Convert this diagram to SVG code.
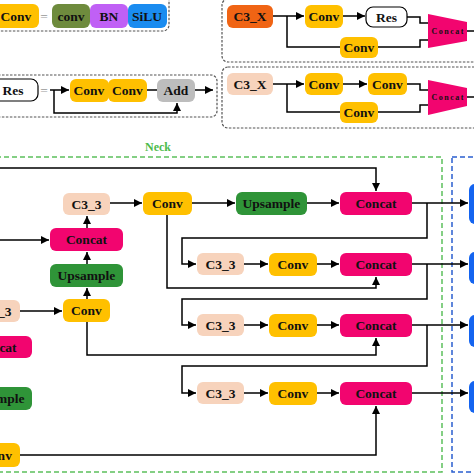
<svg xmlns="http://www.w3.org/2000/svg" width="474" height="474" viewBox="0 0 474 474">
<style>
text{font-family:"Liberation Serif","Times New Roman",serif;font-weight:bold;font-size:13.5px;text-anchor:middle;dominant-baseline:central;fill:#111}
.conv{fill:#FFC000}
.c33{fill:#F7D3BC}
.cat{fill:#F2056F}
.up{fill:#2F9438}
.blue{fill:#1464F0}
.ln{fill:none;stroke:#000;stroke-width:1.5}
.box{fill:none;stroke:#555;stroke-width:1.2;stroke-dasharray:2.5,1.5}
</style>
<defs>
<marker id="ah" viewBox="0 0 10 10" refX="10" refY="5" markerWidth="8" markerHeight="8" markerUnits="userSpaceOnUse" orient="auto">
<path d="M0,0 L10,5 L0,10 z" fill="#000"/>
</marker>
</defs>
<rect width="474" height="474" fill="#fff"/>

<!-- legend boxes -->
<rect class="box" x="-20" y="-10" width="189" height="41" rx="6"/>
<rect class="box" x="-20" y="75" width="237" height="42" rx="6"/>
<rect class="box" x="222" y="-1" width="270" height="63" rx="6"/>
<rect class="box" x="222" y="67" width="270" height="61" rx="6"/>

<g id="leg-conv"><rect class="conv" x="-8" y="4" width="47" height="24" rx="6"/><text x="16" y="16">Conv</text></g>
<text x="44" y="16" style="fill:#999;font-weight:normal">=</text>
<g id="leg-conv2"><rect x="52" y="4" width="38" height="24" rx="6" fill="#6E8B3D"/><text x="71" y="16">conv</text></g>
<g id="leg-bn"><rect x="90" y="4" width="38" height="24" rx="6" fill="#C060F5"/><text x="109" y="16">BN</text></g>
<g id="leg-silu"><rect x="128" y="4" width="39" height="24" rx="6" fill="#1A8CF0"/><text x="147" y="16">SiLU</text></g>

<g id="leg-res"><rect x="-12" y="79" width="50" height="22" rx="7" fill="#fff" stroke="#000" stroke-width="1.2"/><text x="13" y="90">Res</text></g>
<text x="44" y="90" style="fill:#999;font-weight:normal">=</text>
<g id="res-conv1"><rect class="conv" x="70" y="79" width="39" height="23" rx="6"/><text x="89" y="90.5">Conv</text></g>
<g id="res-conv2"><rect class="conv" x="108" y="79" width="39" height="23" rx="6"/><text x="127.5" y="90.5">Conv</text></g>
<g id="res-add"><rect x="157" y="79" width="38" height="23" rx="6" fill="#BDBDBD"/><text x="176" y="90.5">Add</text></g>

<g id="c3x-1"><rect x="227" y="5" width="46" height="23" rx="6" fill="#F06414"/><text x="250" y="16.5">C3_X</text></g>
<g id="c3x-1-conv1"><rect class="conv" x="305" y="5" width="38" height="23" rx="6"/><text x="324" y="16.5">Conv</text></g>
<g id="c3x-1-res"><rect x="366" y="7" width="41" height="20" rx="7" fill="#fff" stroke="#000" stroke-width="1.2"/><text x="386.5" y="17">Res</text></g>
<g id="c3x-1-conv2"><rect class="conv" x="340" y="37" width="38" height="21" rx="6"/><text x="359" y="47.5">Conv</text></g>
<g id="c3x-1-cat"><path d="M428,14 L467,22 L467,41 L428,48 Z" class="cat"/><text x="447.5" y="31.5" style="font-size:8px" textLength="32">Concat</text></g>

<g id="c3x-2"><rect class="c33" x="227" y="73" width="46" height="22" rx="6"/><text x="250" y="84">C3_X</text></g>
<g id="c3x-2-conv1"><rect class="conv" x="305" y="73" width="38" height="22" rx="6"/><text x="324" y="84">Conv</text></g>
<g id="c3x-2-conv3"><rect class="conv" x="368" y="73" width="39" height="22" rx="6"/><text x="387.5" y="84">Conv</text></g>
<g id="c3x-2-conv2"><rect class="conv" x="340" y="102" width="38" height="21" rx="6"/><text x="359" y="112.5">Conv</text></g>
<g id="c3x-2-cat"><path d="M428,80 L467,88 L467,106 L428,115 Z" class="cat"/><text x="447.5" y="97.5" style="font-size:8px" textLength="32">Concat</text></g>

<!-- neck / head frames -->
<rect x="-20" y="157" width="462" height="315" fill="none" stroke="#5CC05C" stroke-width="1.5" stroke-dasharray="5,3"/>
<rect x="452" y="157" width="60" height="315" fill="none" stroke="#2B5FD0" stroke-width="1.5" stroke-dasharray="5,3"/>
<text x="158" y="147" style="font-size:12px;fill:#4CBB4C">Neck</text>

<!-- neck nodes -->
<g id="n-c33-a"><rect class="c33" x="63" y="193" width="47" height="22" rx="6"/><text x="86.5" y="204">C3_3</text></g>
<g id="n-conv-a"><rect class="conv" x="143" y="192" width="49" height="23" rx="6"/><text x="167.5" y="203.5">Conv</text></g>
<g id="n-up-a"><rect class="up" x="236" y="192" width="71" height="23" rx="6"/><text x="271.5" y="203.5">Upsample</text></g>
<g id="n-cat-a"><rect class="cat" x="340" y="192" width="72" height="23" rx="6"/><text x="376" y="203.5">Concat</text></g>

<g id="n-cat-l"><rect class="cat" x="50" y="228" width="73" height="23" rx="6"/><text x="86.5" y="239.5">Concat</text></g>
<g id="n-up-l"><rect class="up" x="50" y="264" width="73" height="23" rx="6"/><text x="86.5" y="275.5">Upsample</text></g>
<g id="n-conv-l"><rect class="conv" x="63" y="299" width="47" height="23" rx="6"/><text x="86.5" y="310.5">Conv</text></g>

<g id="n-c33-p"><rect class="c33" x="-27" y="300" width="47" height="22" rx="6"/><text x="-3.5" y="311">C3_3</text></g>
<g id="n-cat-p"><rect class="cat" x="-40" y="336" width="72" height="22" rx="6"/><text x="-4" y="347">Concat</text></g>
<g id="n-up-p"><rect class="up" x="-41" y="387" width="73" height="23" rx="6"/><text x="-4.5" y="398.5">Upsample</text></g>
<g id="n-conv-p"><rect class="conv" x="-27" y="443" width="47" height="24" rx="6"/><text x="-3.5" y="455">Conv</text></g>

<g id="n-c33-b"><rect class="c33" x="197" y="253" width="47" height="22" rx="6"/><text x="220.5" y="264">C3_3</text></g>
<g id="n-conv-b"><rect class="conv" x="269" y="253" width="48" height="23" rx="6"/><text x="293" y="264.5">Conv</text></g>
<g id="n-cat-b"><rect class="cat" x="340" y="253" width="72" height="23" rx="6"/><text x="376" y="264.5">Concat</text></g>

<g id="n-c33-c"><rect class="c33" x="197" y="314" width="47" height="22" rx="6"/><text x="220.5" y="325">C3_3</text></g>
<g id="n-conv-c"><rect class="conv" x="269" y="314" width="48" height="23" rx="6"/><text x="293" y="325.5">Conv</text></g>
<g id="n-cat-c"><rect class="cat" x="340" y="314" width="72" height="23" rx="6"/><text x="376" y="325.5">Concat</text></g>

<g id="n-c33-d"><rect class="c33" x="197" y="382" width="47" height="22" rx="6"/><text x="220.5" y="393">C3_3</text></g>
<g id="n-conv-d"><rect class="conv" x="269" y="382" width="48" height="23" rx="6"/><text x="293" y="393.5">Conv</text></g>
<g id="n-cat-d"><rect class="cat" x="340" y="382" width="72" height="23" rx="6"/><text x="376" y="393.5">Concat</text></g>

<g id="h1"><rect class="blue" x="469" y="184" width="30" height="40" rx="6"/></g>
<g id="h2"><rect class="blue" x="469" y="252" width="30" height="32" rx="6"/></g>
<g id="h3"><rect class="blue" x="469" y="315" width="30" height="32" rx="6"/></g>
<g id="h4"><rect class="blue" x="469" y="381" width="30" height="32" rx="6"/></g>

<g id="connectors">
<path class="ln" d="M50,90 H69" marker-end="url(#ah)"/>
<path class="ln" d="M54,90 V113 H177 V103" marker-end="url(#ah)"/>
<path class="ln" d="M147,90 H157"/>
<path class="ln" d="M195,90 H213" marker-end="url(#ah)"/>

<path class="ln" d="M273,16 H304" marker-end="url(#ah)"/>
<path class="ln" d="M287,16 V47 H340"/>
<path class="ln" d="M343,16 H365" marker-end="url(#ah)"/>
<path class="ln" d="M407,17 H420 V23 H428"/>
<path class="ln" d="M378,47 H420 V40 H428"/>
<path class="ln" d="M467,31 H476"/>

<path class="ln" d="M273,84 H304" marker-end="url(#ah)"/>
<path class="ln" d="M287,84 V112 H340"/>
<path class="ln" d="M343,84 H367" marker-end="url(#ah)"/>
<path class="ln" d="M407,84 H420 V90 H428"/>
<path class="ln" d="M378,112 H420 V105 H428"/>
<path class="ln" d="M467,97 H476"/>

<path class="ln" d="M-5,168 H376 V191" marker-end="url(#ah)"/>
<path class="ln" d="M110,203 H142" marker-end="url(#ah)"/>
<path class="ln" d="M192,203 H235" marker-end="url(#ah)"/>
<path class="ln" d="M307,203 H339" marker-end="url(#ah)"/>
<path class="ln" d="M412,203 H468" marker-end="url(#ah)"/>
<path class="ln" d="M427,203 V238 H182 V264 H196" marker-end="url(#ah)"/>
<path class="ln" d="M167,215 V288 H376 V277" marker-end="url(#ah)"/>
<path class="ln" d="M244,264 H268" marker-end="url(#ah)"/>
<path class="ln" d="M317,264 H339" marker-end="url(#ah)"/>
<path class="ln" d="M412,264 H468" marker-end="url(#ah)"/>
<path class="ln" d="M427,264 V299 H182 V325 H196" marker-end="url(#ah)"/>

<path class="ln" d="M-5,240 H49" marker-end="url(#ah)"/>
<path class="ln" d="M87,228 V216" marker-end="url(#ah)"/>
<path class="ln" d="M87,264 V252" marker-end="url(#ah)"/>
<path class="ln" d="M87,299 V288" marker-end="url(#ah)"/>
<path class="ln" d="M20,311 H62" marker-end="url(#ah)"/>

<path class="ln" d="M87,322 V355 H376 V338" marker-end="url(#ah)"/>
<path class="ln" d="M244,325 H268" marker-end="url(#ah)"/>
<path class="ln" d="M317,325 H339" marker-end="url(#ah)"/>
<path class="ln" d="M412,325 H468" marker-end="url(#ah)"/>
<path class="ln" d="M427,325 V366 H182 V393 H196" marker-end="url(#ah)"/>

<path class="ln" d="M244,393 H268" marker-end="url(#ah)"/>
<path class="ln" d="M317,393 H339" marker-end="url(#ah)"/>
<path class="ln" d="M412,393 H468" marker-end="url(#ah)"/>
<path class="ln" d="M20,455 H376 V406" marker-end="url(#ah)"/>
</g>
</svg>
